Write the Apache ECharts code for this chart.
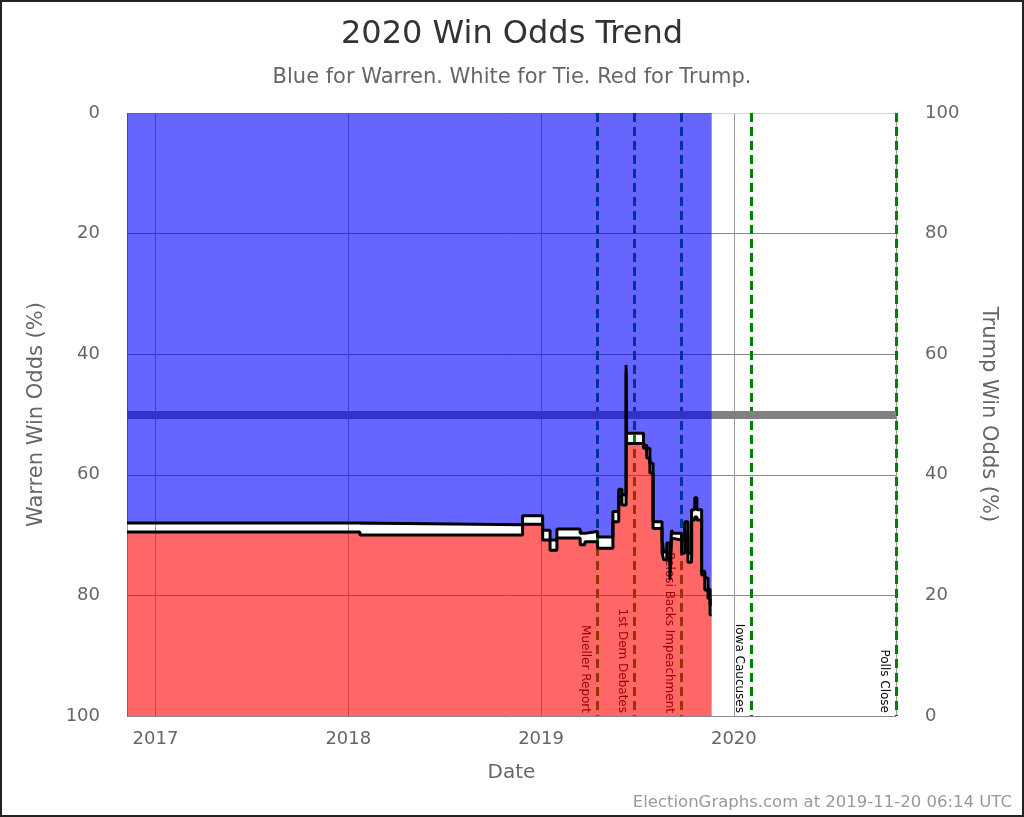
<!DOCTYPE html>
<html>
<head>
<meta charset="utf-8">
<script src="https://cdn.jsdelivr.net/npm/echarts@6/dist/echarts.min.js"></script>
<style>
html,body{margin:0;padding:0;background:#fff;}
#frame{position:absolute;left:0;top:0;width:1024px;height:817px;box-sizing:border-box;border:2px solid #222;}
#chart{position:absolute;left:0;top:0;width:1024px;height:817px;}
</style>
</head>
<body>
<div id="chart"></div>
<div id="frame"></div>
<script>
// ---- data ----
const dates = ['2016-11-08','2018-01-23','2018-11-27','2019-01-04','2019-01-18','2019-01-31','2019-03-16','2019-03-25','2019-04-18','2019-05-17','2019-05-28','2019-06-03','2019-06-11','2019-06-12','2019-07-14','2019-07-20','2019-07-26','2019-08-01','2019-08-18','2019-08-21','2019-08-27','2019-09-02','2019-09-05','2019-09-08','2019-09-24','2019-09-30','2019-10-06','2019-10-13','2019-10-19','2019-10-23','2019-11-01','2019-11-07','2019-11-13','2019-11-17','2019-11-20'];
const warrenOdds = [68.0,68.3,66.8,69.2,70.8,69.0,69.7,69.4,70.3,66.1,62.4,63.3,41.8,53.1,55.1,55.6,58.1,67.8,70.8,72.8,71.3,75.0,69.2,69.7,70.8,67.8,73.0,65.8,63.8,65.8,76.0,77.1,79.0,81.6,81.6];
const trumpOdds  = [30.5,30.0,31.8,29.2,27.5,29.5,28.4,28.9,27.8,32.2,36.5,35.0,57.0,45.2,44.4,42.8,40.3,31.1,27.2,25.9,27.2,22.6,29.5,29.2,27.0,30.5,25.5,32.5,33.0,32.5,23.4,20.9,19.5,16.8,16.8];
const eventNames = ['Mueller Report','1st Dem Debates','Pelosi Backs Impeachment','Iowa Caucuses','Polls Close'];
const eventDates = ['2019-04-18','2019-06-26','2019-09-24','2020-02-03','2020-11-03'];
const yTicks = [0,20,40,60,80,100];
const xMin = '2016-11-08', xMax = '2020-11-03';

const FONT = 'DejaVu Sans';
const chart = echarts.init(document.getElementById('chart'), null, {renderer:'canvas'});

// each value holds until the next date (step after)
function stepped(vals){
  const out = [];
  dates.forEach((d,i)=>{
    if (i>0) out.push([d, vals[i-1]]);
    out.push([d, vals[i]]);
  });
  return out;
}

// filled region between the stepped line and the axis value "base", drawn via axis scales
function fillSeries(vals, axisIdx, base, color){
  const pts = stepped(vals);
  return {
    type:'custom', yAxisIndex:axisIdx, z:2, silent:true,
    data:pts, encode:{x:0,y:1},
    renderItem:function(params, api){
      if (params.dataIndex !== 0) return null;
      const poly = pts.map(p=>api.coord(p));
      poly.push(api.coord([dates[dates.length-1], base]));
      poly.push(api.coord([dates[0], base]));
      return {type:'polygon', shape:{points:poly}, style:{fill:color}};
    }
  };
}

const eventLines = eventNames.map((n,i)=>[
  {name:n, coord:[eventDates[i],0]},
  {coord:[eventDates[i],100]}
]);

const option = {
  animation:false,
  backgroundColor:'#fff',
  textStyle:{fontFamily:FONT},
  title:[
    {text:'2020 Win Odds Trend', left:'center', top:14,
     textStyle:{fontFamily:FONT,fontSize:32,fontWeight:'normal',color:'#333'}},
    {text:'Blue for Warren. White for Tie. Red for Trump.', left:'center', top:62,
     textStyle:{fontFamily:FONT,fontSize:21,fontWeight:'normal',color:'#666'}},
    {text:'ElectionGraphs.com at 2019-11-20 06:14 UTC', right:7, top:789,
     textStyle:{fontFamily:FONT,fontSize:16.5,fontWeight:'normal',color:'#999'}}
  ],
  grid:{left:127, right:128, top:113, bottom:101, containLabel:false},
  xAxis:{
    type:'time', min:xMin, max:xMax, splitNumber:4,
    name:'Date', nameLocation:'middle', nameGap:47,
    nameTextStyle:{fontFamily:FONT,fontSize:20,color:'#666'},
    axisLine:{show:true,lineStyle:{color:'#ccd6eb',width:1}},
    axisTick:{show:false},
    axisLabel:{formatter:'{yyyy}', fontFamily:FONT, fontSize:18, color:'#666', margin:14},
    splitLine:{show:true,lineStyle:{color:'#999',width:1}}
  },
  yAxis:[
    {type:'value', inverse:true, min:0, max:100, interval:20,
     name:'Warren Win Odds (%)', nameLocation:'middle', nameRotate:90, nameGap:80,
     nameTextStyle:{fontFamily:FONT,fontSize:21,color:'#666'},
     axisLine:{show:false}, axisTick:{show:false},
     axisLabel:{fontFamily:FONT,fontSize:18,color:'#666',margin:27},
     splitLine:{show:true,lineStyle:{color:'#888',width:1}}},
    {type:'value', min:0, max:100, interval:20, position:'right',
     name:'Trump Win Odds (%)', nameLocation:'middle', nameRotate:-90, nameGap:82,
     nameTextStyle:{fontFamily:FONT,fontSize:21,color:'#666'},
     axisLine:{show:false}, axisTick:{show:false},
     axisLabel:{fontFamily:FONT,fontSize:18,color:'#666',margin:29},
     splitLine:{show:false}}
  ],
  series:[
    {type:'line', name:'events', data:[], z:1, yAxisIndex:0, silent:true,
     markLine:{silent:true, z:1, symbol:['none','none'], animation:false,
       data:[...eventLines,
         [{coord:[xMin,50], lineStyle:{color:'#808080',width:8,type:'solid'}, label:{show:false}},
          {coord:[xMax,50]}]],
       lineStyle:{color:'#008000',width:3,type:[9,5]},
       label:{show:true, position:'insideEndBottom', formatter:'{b}', color:'#000',
              fontFamily:FONT, fontSize:12, distance:[3,6]}
     }},
    fillSeries(warrenOdds, 0, 0, 'rgba(0,0,255,0.6)'),
    fillSeries(trumpOdds, 1, 0, 'rgba(255,0,0,0.6)'),
    {type:'line', name:'Warren', yAxisIndex:0, z:3, symbol:'none', silent:true,
     data:stepped(warrenOdds),
     lineStyle:{color:'#000',width:3}},
    {type:'line', name:'Trump', yAxisIndex:1, z:3, symbol:'none', silent:true,
     data:stepped(trumpOdds),
     lineStyle:{color:'#000',width:3}}
  ]
};
chart.setOption(option);
</script>
</body>
</html>
